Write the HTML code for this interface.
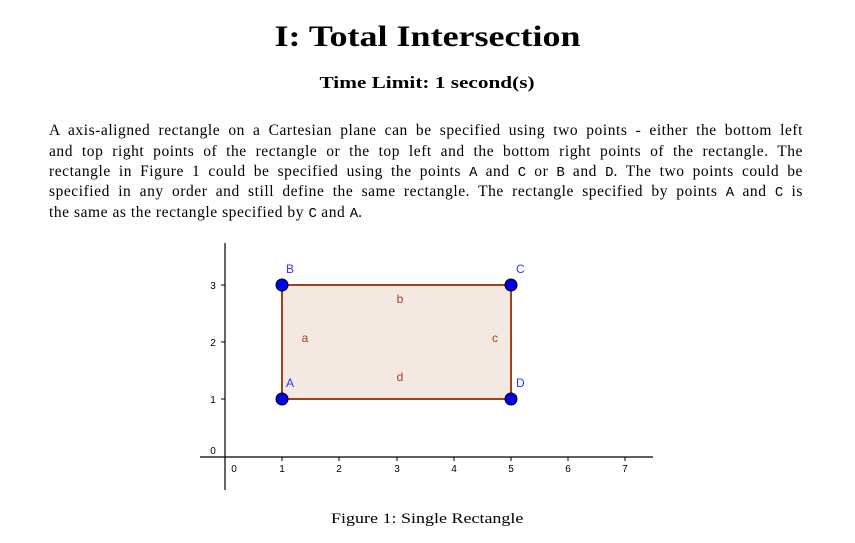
<!DOCTYPE html>
<html><head><meta charset="utf-8"><style>
body{margin:0;width:855px;height:543px;background:#fff;position:relative;overflow:hidden;font-family:"Liberation Serif",serif;color:#000}
.t{position:absolute;left:0;width:855px;text-align:center}
.t span{display:inline-block}
.l{position:absolute;left:49px;width:754px;font-size:15.5px;letter-spacing:0.55px;text-align:justify;text-align-last:justify;white-space:nowrap;line-height:20px}
.m{font-family:"Liberation Mono",monospace;font-size:14px;letter-spacing:0}
</style></head><body>
<div class="t" style="top:20px;font-size:30px;font-weight:bold"><span style="transform:scaleX(1.2)">I: Total Intersection</span></div>
<div class="t" style="top:73px;font-size:17px;font-weight:bold"><span style="transform:scaleX(1.25)">Time Limit: 1 second(s)</span></div>
<div class="l" style="top:121px">A axis-aligned rectangle on a Cartesian plane can be specified using two points - either the bottom left</div>
<div class="l" style="top:142px">and top right points of the rectangle or the top left and the bottom right points of the rectangle. The</div>
<div class="l" style="top:162px">rectangle in Figure 1 could be specified using the points <span class="m">A</span> and <span class="m">C</span> or <span class="m">B</span> and <span class="m">D</span>. The two points could be</div>
<div class="l" style="top:182px">specified in any order and still define the same rectangle. The rectangle specified by points <span class="m">A</span> and <span class="m">C</span> is</div>
<div class="l" style="top:203px;text-align-last:left">the same as the rectangle specified by <span class="m">C</span> and <span class="m">A</span>.</div>
<svg style="position:absolute;left:0;top:0" width="855" height="543" font-family="Liberation Sans,sans-serif">
<line x1="200" y1="457" x2="653" y2="457" stroke="#000" stroke-width="1.2"/>
<line x1="225" y1="243" x2="225" y2="490" stroke="#000" stroke-width="1.2"/>
<g stroke="#000">
<line x1="282" y1="457" x2="282" y2="461"/><line x1="339" y1="457" x2="339" y2="461"/><line x1="397" y1="457" x2="397" y2="461"/><line x1="454" y1="457" x2="454" y2="461"/><line x1="511" y1="457" x2="511" y2="461"/><line x1="568" y1="457" x2="568" y2="461"/><line x1="625" y1="457" x2="625" y2="461"/>
<line x1="221" y1="285" x2="225" y2="285"/><line x1="221" y1="342" x2="225" y2="342"/><line x1="221" y1="399" x2="225" y2="399"/>
</g>
<g font-size="10" fill="#000" text-anchor="middle">
<text x="234" y="472">0</text><text x="282" y="472">1</text><text x="339" y="472">2</text><text x="397" y="472">3</text><text x="454" y="472">4</text><text x="511" y="472">5</text><text x="568" y="472">6</text><text x="625" y="472">7</text>
<text x="213" y="289">3</text><text x="213" y="346">2</text><text x="213" y="403">1</text><text x="213" y="454">0</text>
</g>
<rect x="282" y="285" width="229" height="114" fill="#f4e8e2" stroke="#a0421a" stroke-width="2"/>
<g font-size="12" fill="#a0421a" text-anchor="middle">
<text x="400" y="303">b</text><text x="305" y="342">a</text><text x="495" y="342">c</text><text x="400" y="381">d</text>
</g>
<g fill="#0000ee" stroke="#000" stroke-width="1"><circle cx="282" cy="285" r="6"/><circle cx="511" cy="285" r="6"/><circle cx="282" cy="399" r="6"/><circle cx="511" cy="399" r="6"/></g>
<g font-size="12" fill="#3333ff">
<text x="286" y="273">B</text><text x="516" y="273">C</text><text x="286" y="387">A</text><text x="516" y="387">D</text>
</g>
</svg>
<div class="t" style="top:511px;font-size:15px"><span style="transform:scaleX(1.2)">Figure 1: Single Rectangle</span></div>
</body></html>
